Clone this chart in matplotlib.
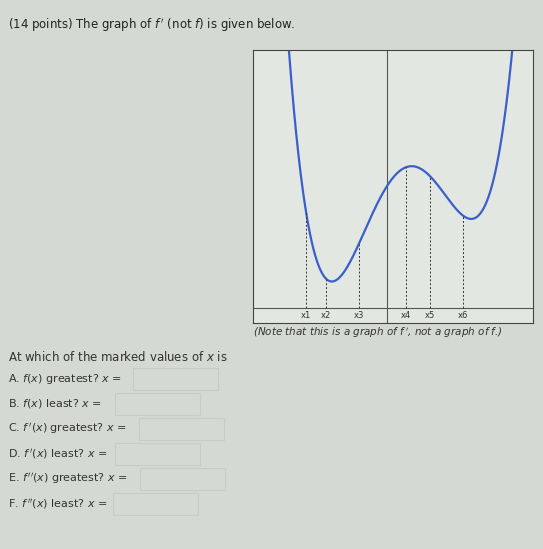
import numpy as np
import matplotlib.pyplot as plt
from matplotlib.patches import Rectangle

# points (x relative to the y-axis, y above x-axis)
curve_x = [-97, -81, -61, -28, 26, 43, 76, 125]
curve_y = [258, 68, 38, 78, 135, 121, 104, 253]
marks = ["x1", "x2", "x3", "x4", "x5", "x6"]
mark_x = [-81, -61, -28, 19, 43, 76]

questions = [r"A. $f(x)$ greatest? $x$ =", r"B. $f(x)$ least? $x$ =",
             r"C. $f\,'(x)$ greatest? $x$ =", r"D. $f\,'(x)$ least? $x$ =",
             r"E. $f\,''(x)$ greatest? $x$ =", r"F. $f\,''(x)$ least? $x$ ="]
box_left = [133, 115, 139, 115, 140, 113]

W, H = 543, 549
fig = plt.figure(figsize=(W / 100, H / 100), dpi=100, facecolor="#d5d9d3")
bg = fig.add_axes([0, 0, 1, 1])
bg.set_xlim(0, W)
bg.set_ylim(H, 0)
bg.axis("off")

bg.text(8, 25, "(14 points) The graph of $f\\,'$ (not $f$) is given below.",
        fontsize=8.5, color="#222222", va="center")
bg.text(8, 357, "At which of the marked values of $x$ is", fontsize=8.5,
        color="#333333", va="center")
for i, q in enumerate(questions):
    y = 379 + i * 25
    bg.text(8, y, q, fontsize=8, color="#333333", va="center")
    bg.add_patch(Rectangle((box_left[i], y - 11), 85, 22, fill=False,
                           ec="#c8ccc6", lw=0.8))
bg.text(253, 333, "(Note that this is a graph of $f\\,'$, not a graph of $f$.)",
        fontsize=7.5, style="italic", color="#333333", va="center")

# graph axes: pixels 253..533 x 50..323
ax = fig.add_axes([253 / W, 1 - 323 / H, 280 / W, 273 / H])
ax.set_facecolor("#e3e7e1")
ax.set_xlim(-134, 146)
ax.set_ylim(-15, 258)
ax.set_xticks([])
ax.set_yticks([])
for s in ax.spines.values():
    s.set_color("#444444")
    s.set_linewidth(0.8)
ax.axhline(0, color="#555555", lw=0.8)
ax.axvline(0, color="#555555", lw=0.8)

coef = np.polyfit(curve_x, curve_y, 4)
xs = np.linspace(-100, 128, 400)
ax.plot(xs, np.polyval(coef, xs), color="#3a5fcd", lw=1.6)
for name, mx in zip(marks, mark_x):
    ax.plot([mx, mx], [0, np.polyval(coef, mx)], ls=(0, (2, 2)),
            color="#333333", lw=0.7)
    ax.text(mx, -3, name, fontsize=6, ha="center", va="top", color="#333333")

fig.savefig("out.png", dpi=100, facecolor=fig.get_facecolor())
